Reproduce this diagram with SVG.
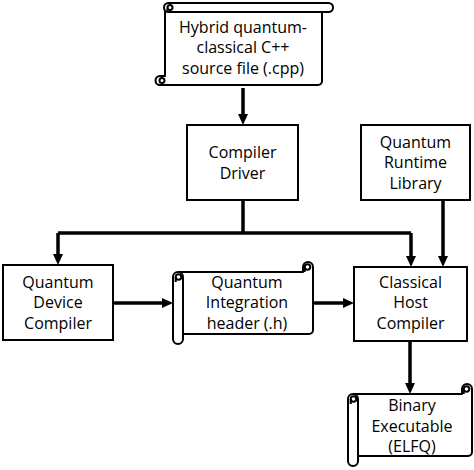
<svg xmlns="http://www.w3.org/2000/svg" width="474" height="470" viewBox="0 0 474 470">
<defs>
<style>
.box{fill:#fff;stroke:#000;stroke-width:2}
.sc{fill:#fff;stroke:#000;stroke-width:2;stroke-linejoin:round}
.ln{fill:none;stroke:#000;stroke-width:2}
.t{font-family:"Open Sans","Noto Sans",sans-serif;font-size:16px;fill:#000;text-anchor:middle}
.c{fill:none;stroke:#000;stroke-width:3.5}
</style>
<marker id="ah" markerUnits="userSpaceOnUse" markerWidth="12" markerHeight="12" refX="3" refY="5" orient="auto">
<path d="M0,0 L11,5 L0,10 z" fill="#000"/>
</marker>
</defs>
<rect width="474" height="470" fill="#fff"/>

<g id="connectors">
<path class="c" d="M243,88 V117" marker-end="url(#ah)"/>
<path class="c" d="M243,200 V233"/>
<path class="c" d="M58,233 H411"/>
<path class="c" d="M58,233 V257" marker-end="url(#ah)"/>
<path class="c" d="M411,233 V259" marker-end="url(#ah)"/>
<path class="c" d="M443,200 V259" marker-end="url(#ah)"/>
<path class="c" d="M113,303 H165" marker-end="url(#ah)"/>
<path class="c" d="M313,303 H346" marker-end="url(#ah)"/>
<path class="c" d="M410,341 V386" marker-end="url(#ah)"/>
</g>

<g id="source">
<path class="sc" d="M165,8 V76 H160 A4.5,4.5 0 0 0 160,85 H318 A4,4 0 0 0 322,81 V12"/>
<rect class="sc" x="164" y="3" width="169" height="9" rx="4.5"/>
<circle class="ln" cx="170" cy="7.5" r="2.5" stroke-width="1.5"/>
<path class="ln" d="M167.5,7.5 V12" stroke-width="1.5"/>
<circle class="ln" cx="162" cy="80.5" r="2.5" stroke-width="1.5"/>
<path class="ln" d="M164.5,80.5 H165" stroke-width="1.5"/>
<text class="t" x="243" y="33">Hybrid quantum-</text>
<text class="t" x="243" y="53">classical C++</text>
<text class="t" x="243" y="74">source file (.cpp)</text>
</g>

<g id="driver">
<rect class="box" x="187" y="125" width="111" height="75"/>
<text class="t" x="242.5" y="158">Compiler</text>
<text class="t" x="242.5" y="179">Driver</text>
</g>

<g id="runtime">
<rect class="box" x="361" y="125" width="109" height="75"/>
<text class="t" x="415.5" y="148">Quantum</text>
<text class="t" x="415.5" y="168">Runtime</text>
<text class="t" x="415.5" y="189">Library</text>
</g>

<g id="device">
<rect class="box" x="3" y="265" width="110" height="75"/>
<text class="t" x="58" y="288">Quantum</text>
<text class="t" x="58" y="308">Device</text>
<text class="t" x="58" y="329">Compiler</text>
</g>

<g id="header">
<path class="sc" d="M178,272 H303 V267 A5,5 0 0 1 313,267 V330 A4,4 0 0 1 309,334 H183"/>
<rect class="sc" x="173" y="272" width="10" height="72" rx="5"/>
<circle class="ln" cx="178.5" cy="277" r="2.8" stroke-width="1.5"/>
<path class="ln" d="M175.7,277 V282" stroke-width="1.5"/>
<circle class="ln" cx="307.5" cy="267" r="2.8" stroke-width="1.5"/>
<path class="ln" d="M304.7,267 V272" stroke-width="1.5"/>
<text class="t" x="247" y="288">Quantum</text>
<text class="t" x="247" y="308">Integration</text>
<text class="t" x="247" y="329">header (.h)</text>
</g>

<g id="host">
<rect class="box" x="354" y="267" width="113" height="74"/>
<text class="t" x="410.5" y="288">Classical</text>
<text class="t" x="410.5" y="308">Host</text>
<text class="t" x="410.5" y="329">Compiler</text>
</g>

<g id="binary">
<path class="sc" d="M353,394 H462 V389 A5,5 0 0 1 472,389 V452 A4,4 0 0 1 468,456 H358"/>
<rect class="sc" x="348" y="394" width="10" height="72" rx="5"/>
<circle class="ln" cx="353.5" cy="399" r="2.8" stroke-width="1.5"/>
<path class="ln" d="M350.7,399 V404" stroke-width="1.5"/>
<circle class="ln" cx="466.5" cy="389" r="2.8" stroke-width="1.5"/>
<path class="ln" d="M463.7,389 V394" stroke-width="1.5"/>
<text class="t" x="412" y="411">Binary</text>
<text class="t" x="412" y="432">Executable</text>
<text class="t" x="412" y="452">(ELFQ)</text>
</g>
</svg>
